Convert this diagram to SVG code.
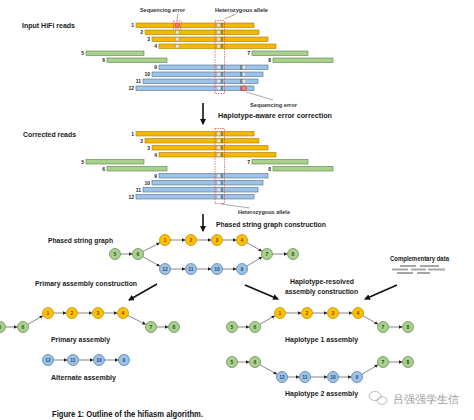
<svg xmlns="http://www.w3.org/2000/svg" width="474" height="420" viewBox="0 0 474 420">
<style>
text{font-family:"Liberation Sans",Arial,sans-serif;}
.lbl{font-size:7px;font-weight:bold;fill:#1a1a1a;}
.sm{font-size:5px;font-weight:bold;fill:#333;}
.num{font-size:5px;font-weight:bold;fill:#222;text-anchor:end;}
.y{fill:#F5B800;stroke:#A67C00;stroke-width:0.6;}
.g{fill:#A9D18E;stroke:#5B7F43;stroke-width:0.6;}
.b{fill:#9DC3E6;stroke:#4A6F93;stroke-width:0.6;}
.mk{fill:#E6E6E6;stroke:#8C8C8C;stroke-width:0.4;}
.dk{stroke:#333;stroke-width:0.8;}
.rbox{fill:none;stroke:#E04040;stroke-width:0.7;stroke-dasharray:1.5,1;}
.err{fill:#F08080;stroke:#E02020;stroke-width:0.6;}
.ptr{stroke:#555;stroke-width:0.5;fill:none;}
.ny{fill:#FFC000;stroke:#B08800;stroke-width:0.7;}
.ng{fill:#A9D18E;stroke:#5B7F43;stroke-width:0.7;}
.nb{fill:#9DC3E6;stroke:#41719C;stroke-width:0.7;}
.nt{font-size:5px;text-anchor:middle;font-weight:bold;}
.ty{fill:#7F3F00;}.tg{fill:#2E4A1E;}.tb{fill:#1F4E79;}
.e{stroke:#555;stroke-width:0.7;fill:none;marker-end:url(#ah);}
.big{stroke:#111;stroke-width:1.6;fill:none;marker-end:url(#bh);}
.cd{fill:#A6A6A6;}
</style>
<defs>
<marker id="ah" viewBox="0 0 6 6" refX="5.5" refY="3" markerWidth="3.5" markerHeight="3.5" markerUnits="userSpaceOnUse" orient="auto"><path d="M0,0 L6,3 L0,6 z" fill="#222"/></marker>
<marker id="bh" viewBox="0 0 6 6" refX="5" refY="3" markerWidth="6" markerHeight="6" markerUnits="userSpaceOnUse" orient="auto"><path d="M0,0 L6,3 L0,6 z" fill="#111"/></marker>
</defs>
<rect width="474" height="420" fill="#fff"/>

<!-- Input reads panel -->
<g id="input-reads">
<text class="lbl" x="22" y="28" textLength="53" lengthAdjust="spacingAndGlyphs">Input HiFi reads</text>
<text class="sm" x="140" y="12" textLength="45" lengthAdjust="spacingAndGlyphs">Sequencing error</text>
<text class="sm" x="215" y="12" textLength="53" lengthAdjust="spacingAndGlyphs">Heterozygous allele</text>
<path class="ptr" d="M178,14 L177,20.5"/>
<path class="ptr" d="M236,14 L224.5,19"/>
<rect class="y" x="136" y="23" width="118" height="4.5"/><text class="num" x="134" y="27">1</text>
<rect class="y" x="145" y="30" width="114" height="4.5"/><text class="num" x="143" y="34">2</text>
<rect class="y" x="152" y="37" width="116" height="4.5"/><text class="num" x="150" y="41">3</text>
<rect class="y" x="159" y="44" width="117" height="4.5"/><text class="num" x="157" y="48">4</text>
<rect class="g" x="86" y="51" width="58" height="4.5"/><text class="num" x="84" y="55">5</text>
<rect class="g" x="252" y="51" width="56" height="4.5"/><text class="num" x="250" y="55">7</text>
<rect class="g" x="107" y="58" width="60" height="4.5"/><text class="num" x="105" y="62">6</text>
<rect class="g" x="273" y="58" width="60" height="4.5"/><text class="num" x="271" y="62">8</text>
<rect class="b" x="159" y="65" width="109" height="4.5"/><text class="num" x="157" y="69">9</text>
<rect class="b" x="152" y="72" width="111" height="4.5"/><text class="num" x="150" y="76">10</text>
<rect class="b" x="143" y="79" width="115" height="4.5"/><text class="num" x="141" y="83">11</text>
<rect class="b" x="136" y="86" width="118" height="4.5"/><text class="num" x="134" y="90">12</text>
<rect class="mk" x="175.5" y="23.5" width="3.5" height="3.5"/>
<rect class="mk" x="175.5" y="30.5" width="3.5" height="3.5"/>
<rect class="mk" x="175.5" y="37.5" width="3.5" height="3.5"/>
<rect class="mk" x="175.5" y="44.5" width="3.5" height="3.5"/>
<circle class="err" cx="177.2" cy="25.2" r="2.2"/>
<rect class="rbox" x="173.5" y="21" width="7.5" height="8"/>
<g>
<rect class="mk" x="217" y="23.5" width="3.5" height="3.5"/><line class="dk" x1="222" y1="23" x2="222" y2="27.5"/>
<rect class="mk" x="217" y="30.5" width="3.5" height="3.5"/><line class="dk" x1="222" y1="30" x2="222" y2="34.5"/>
<rect class="mk" x="217" y="37.5" width="3.5" height="3.5"/><line class="dk" x1="222" y1="37" x2="222" y2="41.5"/>
<rect class="mk" x="217" y="44.5" width="3.5" height="3.5"/><line class="dk" x1="222" y1="44" x2="222" y2="48.5"/>
<rect class="mk" x="217" y="65.5" width="3.5" height="3.5"/><line class="dk" x1="222" y1="65" x2="222" y2="69.5"/>
<rect class="mk" x="217" y="72.5" width="3.5" height="3.5"/><line class="dk" x1="222" y1="72" x2="222" y2="76.5"/>
<rect class="mk" x="217" y="79.5" width="3.5" height="3.5"/><line class="dk" x1="222" y1="79" x2="222" y2="83.5"/>
<rect class="mk" x="217" y="86.5" width="3.5" height="3.5"/><line class="dk" x1="222" y1="86" x2="222" y2="90.5"/>
</g>
<rect class="rbox" x="215" y="20.5" width="9.5" height="73"/>
<line class="dk" x1="241" y1="65" x2="241" y2="69.5"/><rect class="mk" x="242.3" y="65.5" width="3.5" height="3.5"/>
<line class="dk" x1="241" y1="72" x2="241" y2="76.5"/><rect class="mk" x="242.3" y="72.5" width="3.5" height="3.5"/>
<line class="dk" x1="241" y1="79" x2="241" y2="83.5"/><rect class="mk" x="242.3" y="79.5" width="3.5" height="3.5"/>
<line class="dk" x1="241" y1="86" x2="241" y2="90.5"/><rect class="mk" x="242.3" y="86.5" width="3.5" height="3.5"/>
<circle class="err" cx="244" cy="88.3" r="2.6"/>
<path class="ptr" d="M246,92 L273,100"/>
<text class="sm" x="250" y="107" textLength="47" lengthAdjust="spacingAndGlyphs">Sequencing error</text>
</g>

<!-- Corrected reads panel -->
<g id="corrected-reads">
<text class="lbl" x="23" y="137" textLength="53" lengthAdjust="spacingAndGlyphs">Corrected reads</text>
<rect class="y" x="136" y="131.5" width="118" height="4.5"/><text class="num" x="134" y="135.5">1</text>
<rect class="y" x="145" y="138.5" width="114" height="4.5"/><text class="num" x="143" y="142.5">2</text>
<rect class="y" x="152" y="145.5" width="116" height="4.5"/><text class="num" x="150" y="149.5">3</text>
<rect class="y" x="159" y="152.5" width="117" height="4.5"/><text class="num" x="157" y="156.5">4</text>
<rect class="g" x="86" y="159.5" width="58" height="4.5"/><text class="num" x="84" y="163.5">5</text>
<rect class="g" x="252" y="159.5" width="56" height="4.5"/><text class="num" x="250" y="163.5">7</text>
<rect class="g" x="107" y="166.5" width="60" height="4.5"/><text class="num" x="105" y="170.5">6</text>
<rect class="g" x="273" y="166.5" width="60" height="4.5"/><text class="num" x="271" y="170.5">8</text>
<rect class="b" x="159" y="173.5" width="109" height="4.5"/><text class="num" x="157" y="177.5">9</text>
<rect class="b" x="152" y="180.5" width="111" height="4.5"/><text class="num" x="150" y="184.5">10</text>
<rect class="b" x="143" y="187.5" width="115" height="4.5"/><text class="num" x="141" y="191.5">11</text>
<rect class="b" x="136" y="194.5" width="118" height="4.5"/><text class="num" x="134" y="198.5">12</text>
<g>
<rect class="mk" x="217" y="132" width="3.5" height="3.5"/><line class="dk" x1="222" y1="131.5" x2="222" y2="136"/>
<rect class="mk" x="217" y="139" width="3.5" height="3.5"/><line class="dk" x1="222" y1="138.5" x2="222" y2="143"/>
<rect class="mk" x="217" y="146" width="3.5" height="3.5"/><line class="dk" x1="222" y1="145.5" x2="222" y2="150"/>
<rect class="mk" x="217" y="153" width="3.5" height="3.5"/><line class="dk" x1="222" y1="152.5" x2="222" y2="157"/>
<rect class="mk" x="217" y="174" width="3.5" height="3.5"/><line class="dk" x1="222" y1="173.5" x2="222" y2="178"/>
<rect class="mk" x="217" y="181" width="3.5" height="3.5"/><line class="dk" x1="222" y1="180.5" x2="222" y2="185"/>
<rect class="mk" x="217" y="188" width="3.5" height="3.5"/><line class="dk" x1="222" y1="187.5" x2="222" y2="192"/>
<rect class="mk" x="217" y="195" width="3.5" height="3.5"/><line class="dk" x1="222" y1="194.5" x2="222" y2="199"/>
</g>
<rect class="rbox" x="215" y="128.5" width="9.5" height="75"/>
<path class="ptr" d="M221,204 L250,208"/>
<text class="sm" x="238" y="214" textLength="52" lengthAdjust="spacingAndGlyphs">Heterozygous allele</text>
</g>

<g id="step-labels">
<text class="lbl" x="218" y="118" textLength="114" lengthAdjust="spacingAndGlyphs">Haplotype-aware error correction</text>
<text class="lbl" x="216" y="227" textLength="110" lengthAdjust="spacingAndGlyphs">Phased string graph construction</text>
<text class="lbl" x="48" y="243" textLength="65" lengthAdjust="spacingAndGlyphs">Phased string graph</text>
<text class="lbl" x="35" y="286" textLength="102" lengthAdjust="spacingAndGlyphs">Primary assembly construction</text>
<text class="lbl" x="290" y="284" textLength="64" lengthAdjust="spacingAndGlyphs">Haplotype-resolved</text>
<text class="lbl" x="285" y="294" textLength="73" lengthAdjust="spacingAndGlyphs">assembly construction</text>
<text class="lbl" x="390" y="261" textLength="59" lengthAdjust="spacingAndGlyphs">Complementary data</text>
<text class="lbl" x="51" y="342" textLength="59" lengthAdjust="spacingAndGlyphs">Primary assembly</text>
<text class="lbl" x="51" y="380" textLength="65" lengthAdjust="spacingAndGlyphs">Alternate assembly</text>
<text class="lbl" x="285" y="342" textLength="73" lengthAdjust="spacingAndGlyphs">Haplotype 1 assembly</text>
<text class="lbl" x="285" y="396" textLength="73" lengthAdjust="spacingAndGlyphs">Haplotype 2 assembly</text>
</g>

<g id="complementary-data">
<rect class="cd" x="400" y="265" width="16" height="2"/><rect class="cd" x="420" y="265" width="19" height="2"/>
<rect class="cd" x="392" y="268.5" width="16" height="2"/><rect class="cd" x="411" y="268.5" width="15" height="2"/><rect class="cd" x="428" y="268.5" width="17" height="2"/>
<rect class="cd" x="397" y="272" width="16" height="2"/><rect class="cd" x="417" y="272" width="13" height="2"/>
</g>

<g id="connectors">
<line class="big" x1="203" y1="103" x2="203" y2="124"/>
<line class="big" x1="203" y1="214" x2="203" y2="231"/>
<line class="big" x1="157" y1="284" x2="129" y2="300"/>
<line class="big" x1="245" y1="285" x2="278" y2="299"/>
<line class="big" x1="397" y1="285" x2="365" y2="299"/>
<line class="e" x1="120.5" y1="254" x2="132" y2="254"/>
<line class="e" x1="142.9" y1="251.5" x2="159.7" y2="242.8"/>
<line class="e" x1="170.5" y1="240" x2="185" y2="240"/>
<line class="e" x1="196.5" y1="240" x2="211" y2="240"/>
<line class="e" x1="222.5" y1="240" x2="236" y2="240"/>
<line class="e" x1="246.8" y1="242.7" x2="261.8" y2="251.1"/>
<line class="e" x1="272.5" y1="254" x2="287" y2="254"/>
<line class="e" x1="142.8" y1="256.7" x2="159.8" y2="266.1"/>
<line class="e" x1="170.5" y1="269" x2="185" y2="269"/>
<line class="e" x1="196.5" y1="269" x2="211" y2="269"/>
<line class="e" x1="222.5" y1="269" x2="236" y2="269"/>
<line class="e" x1="246.7" y1="266.2" x2="261.9" y2="257.1"/>
<line class="e" x1="5.5" y1="327" x2="17" y2="327"/>
<line class="e" x1="27.8" y1="324.3" x2="42.8" y2="315.9"/>
<line class="e" x1="53.5" y1="313" x2="66" y2="313"/>
<line class="e" x1="77.5" y1="313" x2="92" y2="313"/>
<line class="e" x1="103.5" y1="313" x2="117" y2="313"/>
<line class="e" x1="127.9" y1="315.5" x2="145.6" y2="324.3"/>
<line class="e" x1="156.5" y1="327" x2="168" y2="327"/>
<line class="e" x1="53.5" y1="360" x2="67" y2="360"/>
<line class="e" x1="78.5" y1="360" x2="93" y2="360"/>
<line class="e" x1="104.5" y1="360" x2="118" y2="360"/>
<line class="e" x1="237.5" y1="327" x2="249" y2="327"/>
<line class="e" x1="259.8" y1="324.3" x2="274.8" y2="315.9"/>
<line class="e" x1="285.5" y1="313" x2="301" y2="313"/>
<line class="e" x1="312.5" y1="313" x2="327" y2="313"/>
<line class="e" x1="338.5" y1="313" x2="352" y2="313"/>
<line class="e" x1="362.8" y1="315.7" x2="377.8" y2="324.1"/>
<line class="e" x1="388.5" y1="327" x2="402" y2="327"/>
<line class="e" x1="237.5" y1="362" x2="249" y2="362"/>
<line class="e" x1="259.8" y1="364.7" x2="276.8" y2="374.1"/>
<line class="e" x1="287.5" y1="377" x2="299" y2="377"/>
<line class="e" x1="310.5" y1="377" x2="327" y2="377"/>
<line class="e" x1="338.5" y1="377" x2="351" y2="377"/>
<line class="e" x1="361.8" y1="374.3" x2="377.8" y2="365"/>
<line class="e" x1="388.5" y1="362" x2="402" y2="362"/>
</g>

<g id="psg-5"><circle class="ng" cx="115" cy="254" r="5.5"/><text class="nt tg" x="115" y="255.8">5</text></g>
<g id="psg-6"><circle class="ng" cx="138" cy="254" r="5.5"/><text class="nt tg" x="138" y="255.8">6</text></g>
<g id="psg-1"><circle class="ny" cx="165" cy="240" r="5.5"/><text class="nt ty" x="165" y="241.8">1</text></g>
<g id="psg-2"><circle class="ny" cx="191" cy="240" r="5.5"/><text class="nt ty" x="191" y="241.8">2</text></g>
<g id="psg-3"><circle class="ny" cx="217" cy="240" r="5.5"/><text class="nt ty" x="217" y="241.8">3</text></g>
<g id="psg-4"><circle class="ny" cx="242" cy="240" r="5.5"/><text class="nt ty" x="242" y="241.8">4</text></g>
<g id="psg-7"><circle class="ng" cx="267" cy="254" r="5.5"/><text class="nt tg" x="267" y="255.8">7</text></g>
<g id="psg-8"><circle class="ng" cx="293" cy="254" r="5.5"/><text class="nt tg" x="293" y="255.8">8</text></g>
<g id="psg-12"><circle class="nb" cx="165" cy="269" r="5.5"/><text class="nt tb" x="165" y="270.8">12</text></g>
<g id="psg-11"><circle class="nb" cx="191" cy="269" r="5.5"/><text class="nt tb" x="191" y="270.8">11</text></g>
<g id="psg-10"><circle class="nb" cx="217" cy="269" r="5.5"/><text class="nt tb" x="217" y="270.8">10</text></g>
<g id="psg-9"><circle class="nb" cx="242" cy="269" r="5.5"/><text class="nt tb" x="242" y="270.8">9</text></g>

<g id="pri-5"><circle class="ng" cx="0" cy="327" r="5.5"/><text class="nt tg" x="0" y="328.8">5</text></g>
<g id="pri-6"><circle class="ng" cx="23" cy="327" r="5.5"/><text class="nt tg" x="23" y="328.8">6</text></g>
<g id="pri-1"><circle class="ny" cx="48" cy="313" r="5.5"/><text class="nt ty" x="48" y="314.8">1</text></g>
<g id="pri-2"><circle class="ny" cx="72" cy="313" r="5.5"/><text class="nt ty" x="72" y="314.8">2</text></g>
<g id="pri-3"><circle class="ny" cx="98" cy="313" r="5.5"/><text class="nt ty" x="98" y="314.8">3</text></g>
<g id="pri-4"><circle class="ny" cx="123" cy="313" r="5.5"/><text class="nt ty" x="123" y="314.8">4</text></g>
<g id="pri-7"><circle class="ng" cx="151" cy="327" r="5.5"/><text class="nt tg" x="151" y="328.8">7</text></g>
<g id="pri-8"><circle class="ng" cx="174" cy="327" r="5.5"/><text class="nt tg" x="174" y="328.8">8</text></g>

<g id="alt-12"><circle class="nb" cx="48" cy="360" r="5.5"/><text class="nt tb" x="48" y="361.8">12</text></g>
<g id="alt-11"><circle class="nb" cx="73" cy="360" r="5.5"/><text class="nt tb" x="73" y="361.8">11</text></g>
<g id="alt-10"><circle class="nb" cx="99" cy="360" r="5.5"/><text class="nt tb" x="99" y="361.8">10</text></g>
<g id="alt-9"><circle class="nb" cx="124" cy="360" r="5.5"/><text class="nt tb" x="124" y="361.8">9</text></g>

<g id="h1-5"><circle class="ng" cx="232" cy="327" r="5.5"/><text class="nt tg" x="232" y="328.8">5</text></g>
<g id="h1-6"><circle class="ng" cx="255" cy="327" r="5.5"/><text class="nt tg" x="255" y="328.8">6</text></g>
<g id="h1-1"><circle class="ny" cx="280" cy="313" r="5.5"/><text class="nt ty" x="280" y="314.8">1</text></g>
<g id="h1-2"><circle class="ny" cx="307" cy="313" r="5.5"/><text class="nt ty" x="307" y="314.8">2</text></g>
<g id="h1-3"><circle class="ny" cx="333" cy="313" r="5.5"/><text class="nt ty" x="333" y="314.8">3</text></g>
<g id="h1-4"><circle class="ny" cx="358" cy="313" r="5.5"/><text class="nt ty" x="358" y="314.8">4</text></g>
<g id="h1-7"><circle class="ng" cx="383" cy="327" r="5.5"/><text class="nt tg" x="383" y="328.8">7</text></g>
<g id="h1-8"><circle class="ng" cx="408" cy="327" r="5.5"/><text class="nt tg" x="408" y="328.8">8</text></g>

<g id="h2-5"><circle class="ng" cx="232" cy="362" r="5.5"/><text class="nt tg" x="232" y="363.8">5</text></g>
<g id="h2-6"><circle class="ng" cx="255" cy="362" r="5.5"/><text class="nt tg" x="255" y="363.8">6</text></g>
<g id="h2-12"><circle class="nb" cx="282" cy="377" r="5.5"/><text class="nt tb" x="282" y="378.8">12</text></g>
<g id="h2-11"><circle class="nb" cx="305" cy="377" r="5.5"/><text class="nt tb" x="305" y="378.8">11</text></g>
<g id="h2-10"><circle class="nb" cx="333" cy="377" r="5.5"/><text class="nt tb" x="333" y="378.8">10</text></g>
<g id="h2-9"><circle class="nb" cx="357" cy="377" r="5.5"/><text class="nt tb" x="357" y="378.8">9</text></g>
<g id="h2-7"><circle class="ng" cx="383" cy="362" r="5.5"/><text class="nt tg" x="383" y="363.8">7</text></g>
<g id="h2-8"><circle class="ng" cx="408" cy="362" r="5.5"/><text class="nt tg" x="408" y="363.8">8</text></g>

<g id="watermark" fill="none" stroke="#AAA" stroke-width="0.8">
<ellipse cx="375" cy="396" rx="6" ry="4.5"/>
<ellipse cx="382" cy="400.5" rx="5" ry="3.8"/>
</g>
<text x="393" y="403" font-family="'Noto Sans CJK SC',sans-serif" font-size="11" fill="#9A9A9A" textLength="66" lengthAdjust="spacingAndGlyphs">吕强强学生信</text>

<text x="52" y="416.5" font-family="'Liberation Serif','Times New Roman',serif" font-size="8.5" font-weight="bold" fill="#111" textLength="151" lengthAdjust="spacingAndGlyphs">Figure 1: Outline of the hifiasm algorithm.</text>
</svg>
